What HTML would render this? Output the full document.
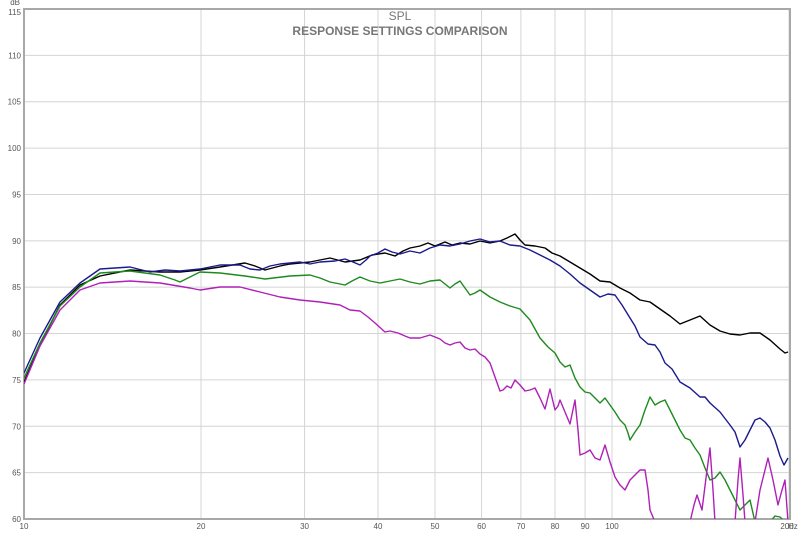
<!DOCTYPE html>
<html><head><meta charset="utf-8"><style>
html,body{margin:0;padding:0;background:#fff;width:800px;height:534px;overflow:hidden}
svg text{font-family:"Liberation Sans",sans-serif;fill:#555}
</style></head><body>
<svg id="s" width="800" height="534" xmlns="http://www.w3.org/2000/svg">
<defs><clipPath id="c"><rect x="24" y="9" width="766" height="510"/></clipPath></defs>
<g id="grid" stroke="#d4d4d4" stroke-width="1"></g>
<rect x="24" y="9" width="766" height="510" fill="none" stroke="#a8a8a8" stroke-width="2"/>
<g id="lab" font-size="8"></g>
<text x="400" y="20" font-size="12" text-anchor="middle" style="fill:#777">SPL</text>
<text x="400" y="35" font-size="12" font-weight="bold" text-anchor="middle" style="fill:#777">RESPONSE SETTINGS COMPARISON</text>
<g id="curves" clip-path="url(#c)" fill="none" stroke-width="1.4" stroke-linejoin="round"></g>
</svg>
<script>
var ns="http://www.w3.org/2000/svg";
function el(p,t,a,txt){var e=document.createElementNS(ns,t);for(var k in a)e.setAttribute(k,a[k]);if(txt)e.textContent=txt;document.getElementById(p).appendChild(e);}
var L=24,D=588;
function X(f){return L+D*Math.log10(f/10);}
for(var v=60;v<=115;v+=5){var y=519-(v-60)*510/55;
 el("grid","line",{x1:24,x2:790,y1:y,y2:y});
 el("lab","text",{x:21,y:y+(v==115?6:3),"text-anchor":"end"},""+v);}
el("lab","text",{x:20,y:5,"text-anchor":"end"},"dB");
[10,20,30,40,50,60,70,80,90,100,200].forEach(function(f){var x=X(f);
 el("grid","line",{x1:x,x2:x,y1:9,y2:519});
 el("lab","text",{x:(f==200?x-2:x),y:529,"text-anchor":"middle"},""+f);});
el("lab","text",{x:788,y:529},"Hz");
var C={
"#000000":[[24,382],[40,345],[60,305],[80,285],[100,276],[130,270],[160,272],[180,272],[200,270],[220,267],[245,263],[255,266],[265,270],[280,266],[290,264],[310,262],[330,258],[345,262],[360,260],[372,255],[385,253],[395,256],[403,251],[410,248],[420,246],[428,243],[435,246],[445,242],[452,245],[460,243],[470,244],[480,241],[490,243],[500,241],[507,238],[515,234],[520,240],[525,245],[535,246],[545,248],[552,253],[560,256],[570,262],[580,268],[590,274],[600,281],[610,282],[620,288],[630,293],[640,300],[650,302],[660,309],[670,316],[680,324],[690,320],[700,316],[710,325],[720,331],[730,334],[740,335],[750,333],[760,333],[770,340],[780,349],[785,353],[788,352]],
"#1a1a8c":[[24,373],[40,338],[60,302],[80,283],[100,269],[130,267],[150,272],[165,270],[180,271],[200,269],[220,265],[240,265],[250,269],[260,270],[270,266],[280,264],[300,262],[310,264],[320,262],[335,261],[345,259],[353,262],[360,265],[366,260],[370,256],[378,253],[385,249],[392,252],[400,254],[410,251],[420,253],[430,248],[440,245],[450,246],[460,244],[470,241],[480,239],[490,242],[500,241],[510,245],[520,246],[530,250],[540,255],[550,260],[560,266],[570,274],[580,283],[590,290],[600,297],[608,294],[615,295],[622,305],[630,318],[635,326],[640,337],[648,344],[655,345],[660,352],[665,363],[672,369],[680,382],[690,388],[700,397],[705,397],[710,403],[720,412],[730,425],[735,432],[740,447],[745,440],[750,430],[755,420],[760,418],[765,422],[770,428],[775,440],[780,456],[784,465],[788,458]],
"#1e8a1e":[[24,378],[40,343],[60,306],[80,287],[100,273],[130,271],[160,275],[175,280],[180,282],[190,277],[200,272],[220,273],[245,276],[265,279],[290,276],[310,275],[320,278],[330,282],[345,285],[352,281],[360,277],[370,281],[380,283],[390,281],[400,279],[410,282],[420,284],[430,281],[440,280],[445,284],[450,288],[455,284],[460,281],[465,288],[470,295],[475,293],[480,290],[490,297],[500,302],[510,306],[520,309],[530,320],[540,338],[548,347],[555,353],[560,362],[565,367],[570,365],[575,378],[580,387],[585,392],[590,393],[595,398],[600,403],[605,398],[610,405],[615,412],[620,420],[625,425],[628,433],[630,440],[635,432],[640,425],[645,410],[650,397],[655,405],[660,402],[665,400],[670,410],[675,420],[680,430],[685,438],[690,440],[695,448],[700,455],[705,468],[710,480],[715,478],[720,472],[725,480],[730,490],[735,500],[740,510],[745,505],[750,500],[755,522],[770,522],[775,516],[780,517],[785,522]],
"#b020b8":[[24,384],[40,346],[60,310],[80,290],[100,283],[130,281],[160,283],[190,288],[200,290],[220,287],[240,287],[260,292],[280,297],[300,300],[320,302],[340,305],[350,310],[360,311],[368,317],[375,323],[385,332],[390,331],[398,333],[405,336],[410,338],[420,338],[430,335],[440,339],[445,343],[450,345],[455,343],[460,342],[465,348],[470,350],[475,349],[480,354],[485,357],[490,363],[495,377],[500,391],[503,390],[507,386],[511,388],[515,380],[520,385],[525,391],[530,390],[535,388],[540,398],[545,409],[550,389],[555,410],[558,406],[560,400],[565,412],[570,424],[575,400],[578,430],[580,455],[585,453],[590,450],[595,458],[600,460],[605,445],[610,462],[615,477],[620,485],[625,490],[630,480],[635,475],[640,470],[645,470],[648,490],[650,510],[655,522],[690,522],[694,505],[697,495],[702,510],[706,478],[710,448],[713,490],[715,522],[735,522],[738,480],[740,458],[743,495],[745,522],[755,522],[760,490],[765,470],[768,458],[773,480],[778,505],[782,490],[785,480],[788,522]]
};
for(var k in C){var p=C[k];
 el("curves","polyline",{points:p.map(function(q){return q.join(",");}).join(" "),stroke:k});}
</script>
</body></html>
